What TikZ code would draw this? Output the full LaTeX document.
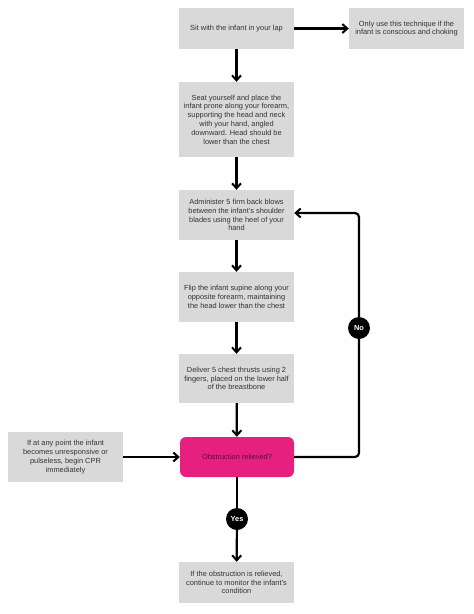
\documentclass[tikz,border=0pt]{standalone}
\usepackage{fontspec}
\setmainfont{Liberation Sans}
\usetikzlibrary{arrows.meta}
\definecolor{boxgray}{HTML}{D9D9D9}
\definecolor{txtgray}{HTML}{333333}
\definecolor{pinkdec}{HTML}{E6207E}
\definecolor{dectxt}{HTML}{5A0E3A}
\begin{document}
\begin{tikzpicture}[x=1pt,y=1pt,
  stepbox/.style={rectangle, fill=boxgray, minimum width=115pt, inner sep=2pt, align=center,
    text=txtgray, font=\fontsize{7.4}{8.8}\selectfont},
  decbox/.style={rectangle, rounded corners=6pt, fill=pinkdec, minimum width=114pt, minimum height=40pt,
    align=center, text=dectxt, font=\fontsize{7.4}{8.8}\selectfont},
  lbl/.style={circle, fill=black, minimum size=22pt, inner sep=0pt, text=white, font=\bfseries\fontsize{7.4}{8.8}\selectfont},
  conn/.style={line width=2.2pt, -{Straight Barb[length=5pt,width=9pt,line width=2pt]}},
  plain/.style={line width=2.2pt}]
\useasboundingbox (0,0) rectangle (474,-614);
\node[stepbox, minimum height=41pt] (b1) at (236.5,-28.5) {Sit with the infant in your lap};
\node[stepbox, minimum height=41pt] (r1) at (406.5,-28.5) {Only use this technique if the\\infant is conscious and choking};
\node[stepbox, minimum height=75pt] (b2) at (236.5,-119.5) {Seat yourself and place the\\infant prone along your forearm,\\supporting the head and neck\\with your hand, angled\\downward. Head should be\\lower than the chest};
\node[stepbox, minimum height=50pt] (b3) at (236.5,-215) {Administer 5 firm back blows\\between the infant's shoulder\\blades using the heel of your\\hand};
\node[stepbox, minimum height=50pt] (b4) at (236.5,-297) {Flip the infant supine along your\\opposite forearm, maintaining\\the head lower than the chest};
\node[stepbox, minimum height=49pt] (b5) at (236.5,-378.5) {Deliver 5 chest thrusts using 2\\fingers, placed on the lower half\\of the breastbone};
\node[decbox] (d) at (237,-457) {Obstruction relieved?};
\node[stepbox, minimum height=50pt] (l) at (65.5,-457) {If at any point the infant\\becomes unresponsive or\\pulseless, begin CPR\\immediately};
\node[stepbox, minimum height=41pt] (f) at (236.5,-582.5) {If the obstruction is relieved,\\continue to monitor the infant's\\condition};
\node[lbl] (no) at (359,-328) {No};
\node[lbl] (yes) at (237,-519) {Yes};
\coordinate (c1) at (359,-457);
\coordinate (c2) at (359,-213);
\draw[conn] (b1) -- (r1);
\draw[conn] (b1) -- (b2);
\draw[conn] (b2) -- (b3);
\draw[conn] (b3) -- (b4);
\draw[conn] (b4) -- (b5);
\draw[conn] (b5) -- (d);
\draw[conn] (l) -- (d);
\draw[plain] (d) -- (yes);
\draw[conn] (yes) -- (f);
\draw[plain, rounded corners=4pt] (d.east) -- (c1) -- (no.south);
\draw[conn, rounded corners=4pt] (no.north) -- (c2) -- (b3.east |- c2);
\end{tikzpicture}
\end{document}
